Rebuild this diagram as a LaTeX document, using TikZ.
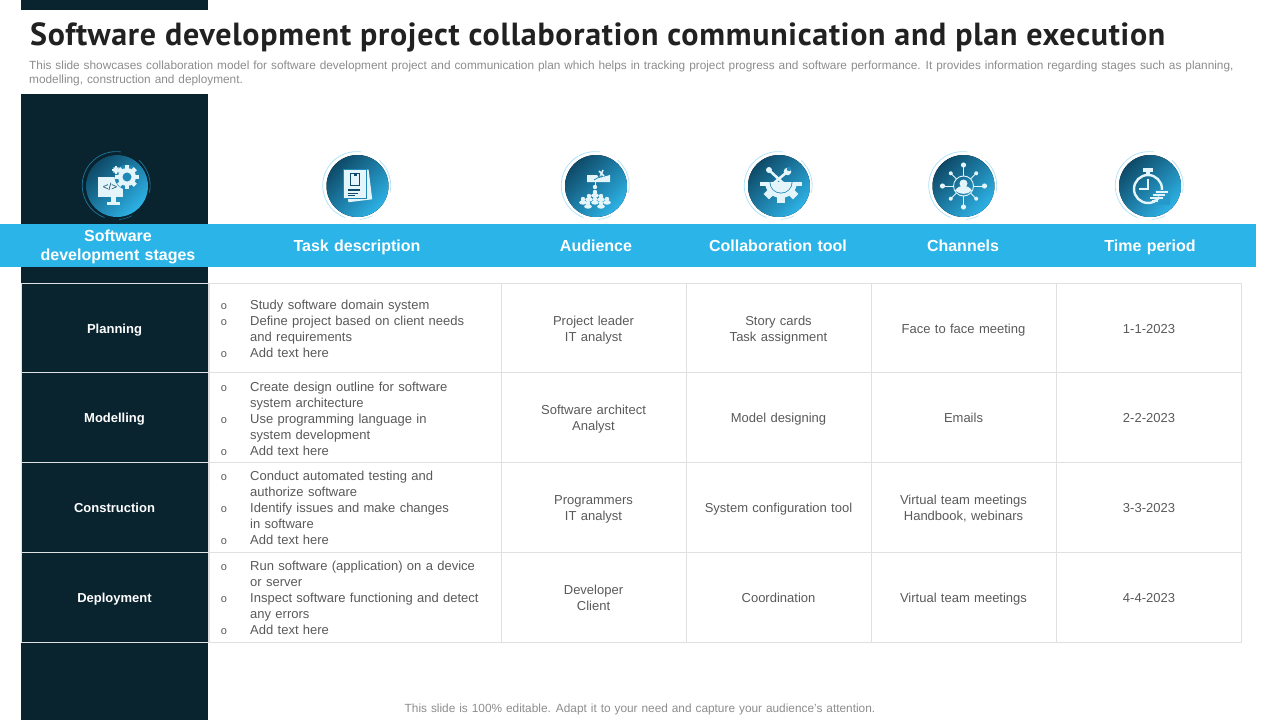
\documentclass[tikz,border=0pt]{standalone}
\usepackage{fontspec}
\setmainfont[WordSpace=1.2]{Liberation Sans}
\newfontfamily\titlefont[LetterSpace=2.3]{PT Sans}
\definecolor{navypanel}{HTML}{09232F}
\definecolor{bandblue}{HTML}{2BB4E8}
\definecolor{gridgray}{HTML}{DEE0E2}
\definecolor{bodygray}{HTML}{595959}
\definecolor{notegray}{HTML}{8C8C8C}
\definecolor{badgedark}{HTML}{0E4A68}
\definecolor{badgemid}{HTML}{2088B6}
\definecolor{badgelight}{HTML}{2DB2E6}
\definecolor{glyph}{HTML}{E3F4FB}
\newcommand{\linetop}{\rule{0pt}{15.2pt}}
\newcommand{\linefoot}{\rule[-4.8pt]{0pt}{4.8pt}}
\tikzset{
  evenlines/.style={execute at begin node=\linetop,execute at end node=\linefoot},
  bandlabel/.style={text=white,font=\bfseries\fontsize{16}{19}\selectfont,align=center,inner sep=0pt,evenlines},
  stagecell/.style={draw=gridgray,line width=1pt,fill=navypanel,text=white,font=\bfseries\fontsize{13}{16}\selectfont,
    minimum width=187pt,minimum height=89.75pt,inner sep=0pt,evenlines},
  taskcell/.style={draw=gridgray,line width=1pt,minimum width=292pt,minimum height=89.75pt,inner sep=0pt},
  infocell/.style={draw=gridgray,line width=1pt,text=bodygray,font=\fontsize{13}{16}\selectfont,align=center,
    minimum width=185pt,minimum height=89.75pt,inner sep=0pt,evenlines},
  tasktext/.style={anchor=west,text=bodygray,font=\fontsize{13}{16}\selectfont,align=left,inner sep=0pt,evenlines},
  bulletmark/.style={text=bodygray,font=\fontsize{11}{16}\selectfont,align=center,inner sep=0pt,evenlines},
}
% round badge behind each icon, origin at its centre, y pointing up
\newcommand{\iconbadge}[2]{%
  \fill[top color=badgedark,middle color=badgemid,bottom color=badgelight,shading angle=45] (0,0) circle (31);
  \draw[#1,line width=0.7pt] (-0.8,0.4) ++(82:34) arc (82:250:34);
  \draw[#1,line width=0.7pt] (-0.8,0.4) ++(48:34) arc (48:-12:34);
  \draw[#1,line width=0.5pt] (-0.8,0.4) ++(-62:34) arc (-62:-85:34);
  #2}
\newcommand{\iconcog}[3]{%
  \foreach \a in {0,45,...,315}
    \fill[glyph,rotate around={\a:(#1,#2)}] (#1,#2) ++(-0.24*#3,0.7*#3) rectangle ++(0.48*#3,0.6*#3);
  \fill[glyph] (#1,#2) circle (#3);}
\begin{document}
\begin{tikzpicture}[x=1pt,y=-1pt]
  \useasboundingbox (0,0) rectangle (1280,720);
  \fill[navypanel] (21,0) rectangle (208,10);
  \fill[navypanel] (21,94) rectangle (208,720);
  \fill[bandblue] (0,224) rectangle (1256,267);

  \node[anchor=west,inner sep=0pt,text=black!87,font=\titlefont\bfseries\fontsize{32}{36}\selectfont] (title) at (30,37)
    {Software development project collaboration communication and plan execution};
  \node[anchor=north west,inner sep=0pt,text=notegray,font=\fontsize{11.83}{14}\selectfont,align=left] (subtitle) at (29,59)
    {\strut This slide showcases collaboration model for software development project and communication plan which helps in tracking project progress and software performance. It provides information regarding stages such as planning,\\
     modelling, construction and deployment.};

  % icons
  \begin{scope}[shift={(117,186)},yscale=-1]
    \iconbadge{badgelight!60!navypanel}{
      \fill[glyph] (-19,9) rectangle (6,-11);
      \fill[glyph] (-6,-11) rectangle (-1,-16);
      \fill[glyph] (-10,-16) rectangle (3,-19);
      \node[inner sep=0pt,text=badgedark,font=\fontsize{10}{10}\selectfont] (codetag) at (-7,-1) {</>};
      \fill[badgemid] (10,9) circle (12.5);
      \iconcog{10}{9}{9}
      \fill[badgemid] (10,9) circle (4.5);
      \iconcog{-1}{16}{2.7}
    }
  \end{scope}
  \begin{scope}[shift={(357.5,186)},yscale=-1]
    \iconbadge{badgelight!40}{
      \fill[glyph,rotate=-7] (-11,15) rectangle (13,-15);
      \draw[badgemid,line width=0.5pt,fill=glyph] (-14,17) rectangle (9,-12);
      \draw[badgedark,line width=0.6pt] (-7,13) rectangle (2,1);
      \fill[badgedark] (-4,13) rectangle (-1,10);
      \fill[badgedark] (-10,-3) rectangle (2,-5);
      \draw[badgedark,line width=0.4pt] (-10,-7) -- (0,-7) (-10,-9) -- (-3,-9);
    }
  \end{scope}
  \begin{scope}[shift={(596,186)},yscale=-1]
    \iconbadge{badgelight!40}{
      \fill[glyph] (-9,11) -- (1,11) -- (3,8) -- (14,11) -- (14,4) -- (-9,4) -- cycle;
      \draw[glyph,line width=1.5pt] (4,9) -- (7,16) (8,10) -- (3,15);
      \draw[badgemid,line width=0.7pt] (-2,6) -- (5,10);
      \fill[glyph] (-1.5,4) rectangle (-0.5,1);
      \fill[glyph] (-1,-1) circle (2.2);
      \foreach \px/\py in {-1/-6,-7/-10,5/-10,-13/-13,-1/-13,11/-13,-8/-17,5/-17}
        \fill[glyph] (\px,\py) circle (2.2) (\px,\py-3.5) ellipse (3.9 and 2.2);
    }
  \end{scope}
  \begin{scope}[shift={(779,186)},yscale=-1]
    \iconbadge{badgelight!40}{
      \begin{scope}
        \clip (-30,4) rectangle (30,-30);
        \iconcog{2}{4}{16}
        \fill[badgemid] (2,4) circle (11.5);
        \fill[glyph] (2,4) circle (10.7);
      \end{scope}
      \draw[glyph,line width=2.6pt] (-9,15) -- (4,3);
      \draw[glyph,line width=2.6pt] (8,14) -- (-5,3);
      \fill[glyph] (-10,16) circle (3);
      \fill[glyph] (8.5,14.5) circle (3.8);
      \fill[badgemid] (10,17) circle (2.2);
    }
  \end{scope}
  \begin{scope}[shift={(963.5,186)},yscale=-1]
    \iconbadge{badgelight!40}{
      \foreach \a in {0,90,180,270} {
        \draw[glyph,line width=0.9pt] (\a:10) -- (\a:21);
        \fill[glyph] (\a:21) circle (2.6);
      }
      \foreach \a in {45,135,225,315} {
        \draw[glyph,line width=0.9pt] (\a:10) -- (\a:18);
        \fill[glyph] (\a:18) circle (2);
      }
      \draw[glyph,line width=0.9pt] (0,0) circle (10);
      \fill[glyph] (0,2.5) circle (4);
      \fill[glyph] (-8.5,-4.5) .. controls (-4,2) and (4,2) .. (8.5,-4.5) .. controls (4,-9) and (-4,-9) .. cycle;
    }
  \end{scope}
  \begin{scope}[shift={(1150,186)},yscale=-1]
    \iconbadge{badgelight!40}{
      \draw[glyph,line width=2.4pt] (-2,-3) circle (14);
      \fill[glyph] (-4,11) rectangle (0,14);
      \fill[glyph] (-7,14) rectangle (3,18);
      \draw[glyph,line width=1.6pt] (-2,7) -- (-2,-3) -- (-11,-3);
      \fill[badgemid!60!badgelight] (5,-4) rectangle (20,-19);
      \draw[glyph,line width=1.1pt] (6,-6) -- (18,-6) (3,-9) -- (15,-9) (0,-12) -- (13,-12) (2,-15) -- (8,-15);
      \draw[glyph,line width=2.4pt] (9.5,-11) arc (-35:-70:14);
    }
  \end{scope}

  % band labels
  \draw
    (118,246) node[bandlabel] (stageshead){\linetop Software\\development stages}
    (357,246) node[bandlabel] (taskhead){Task description}
    (596,246) node[bandlabel] (audiencehead){Audience}
    (778,246) node[bandlabel] (toolhead){Collaboration tool}
    (963,246) node[bandlabel] (channelhead){Channels}
    (1150,246) node[bandlabel] (timehead){Time period};

  % table cells
  \draw
    (114.5,328) node[stagecell] (planning){Planning}
    (114.5,417.75) node[stagecell] (modelling){Modelling}
    (114.5,507.5) node[stagecell] (construction){Construction}
    (114.5,597.25) node[stagecell] (deployment){Deployment};
  \draw
    (355,328) node[taskcell] (planningtask){}
    (355,417.75) node[taskcell] (modellingtask){}
    (355,507.5) node[taskcell] (constructiontask){}
    (355,597.25) node[taskcell] (deploymenttask){};
  \draw
    (593.5,328) node[infocell] (planningaudience){\linetop Project leader\\IT analyst}
    (593.5,417.75) node[infocell] (modellingaudience){\linetop Software architect\\Analyst}
    (593.5,507.5) node[infocell] (constructionaudience){\linetop Programmers\\IT analyst}
    (593.5,597.25) node[infocell] (deploymentaudience){\linetop Developer\\Client}
    (778.5,328) node[infocell] (planningtool){\linetop Story cards\\Task assignment}
    (778.5,417.75) node[infocell] (modellingtool){Model designing}
    (778.5,507.5) node[infocell] (constructiontool){System configuration tool}
    (778.5,597.25) node[infocell] (deploymenttool){Coordination}
    (963.5,328) node[infocell] (planningchannel){Face to face meeting}
    (963.5,417.75) node[infocell] (modellingchannel){Emails}
    (963.5,507.5) node[infocell] (constructionchannel){\linetop Virtual team meetings\\Handbook, webinars}
    (963.5,597.25) node[infocell] (deploymentchannel){Virtual team meetings}
    (1149,328) node[infocell] (planningtime){1-1-2023}
    (1149,417.75) node[infocell] (modellingtime){2-2-2023}
    (1149,507.5) node[infocell] (constructiontime){3-3-2023}
    (1149,597.25) node[infocell] (deploymenttime){4-4-2023};

  % task text
  \draw
    (224,328) node[bulletmark] (planningmarks){\linetop o\\o\\\\o}
    (250,328) node[tasktext] (planningitems){\linetop Study software domain system\\Define project based on client needs\\and requirements\\Add text here}
    (224,418) node[bulletmark] (modellingmarks){\linetop o\\\\o\\\\o}
    (250,418) node[tasktext] (modellingitems){\linetop Create design outline for software\\system architecture\\Use programming language in\\system development\\Add text here}
    (224,507.5) node[bulletmark] (constructionmarks){\linetop o\\\\o\\\\o}
    (250,507.5) node[tasktext] (constructionitems){\linetop Conduct automated testing and\\authorize software\\Identify issues and make changes\\in software\\Add text here}
    (224,597) node[bulletmark] (deploymentmarks){\linetop o\\\\o\\\\o}
    (250,597) node[tasktext] (deploymentitems){\linetop Run software (application) on a device\\or server\\Inspect software functioning and detect\\any errors\\Add text here};

  \node[inner sep=0pt,text=notegray,font=\fontsize{11.85}{14}\selectfont,evenlines] (footnote) at (640,707)
    {This slide is 100\% editable. Adapt it to your need and capture your audience's attention.};
\end{tikzpicture}
\end{document}
